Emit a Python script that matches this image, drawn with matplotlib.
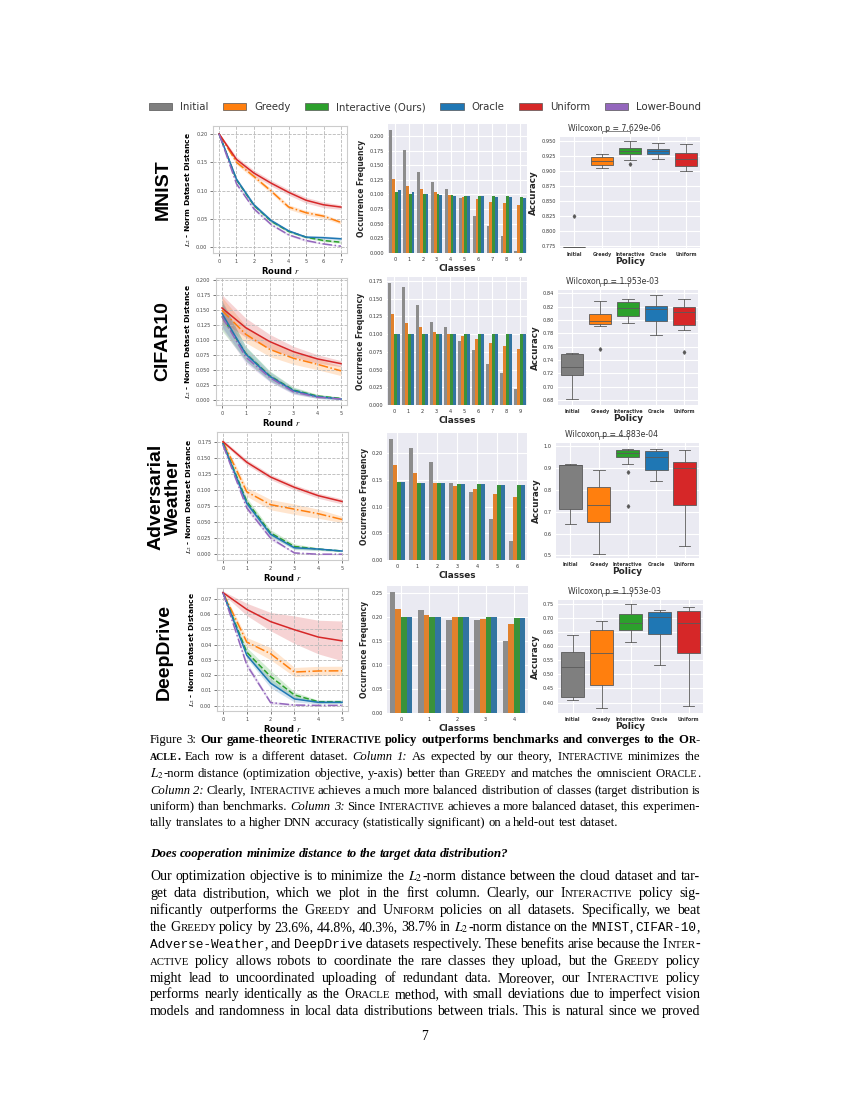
import numpy as np
import matplotlib
matplotlib.use("Agg")
import matplotlib.pyplot as plt
from matplotlib.patches import Patch
from matplotlib.ticker import MultipleLocator, FormatStrFormatter
from matplotlib.transforms import blended_transform_factory

W, H = 850, 1100
plt.rcParams['mathtext.fontset'] = 'stix'

# ---------------- data ----------------
row_names = ["MNIST", "CIFAR10", "Adversarial\nWeather", "DeepDrive"]
policies = ["Initial", "Greedy", "Interactive", "Oracle", "Uniform"]

# column 1: L2-norm distance per round (mean and half band width)
mnist_greedy = [0.200, 0.150, 0.125, 0.099, 0.071, 0.061, 0.055, 0.044]
mnist_interactive = [0.200, 0.119, 0.074, 0.046, 0.028, 0.018, 0.012, 0.009]
mnist_oracle = [0.200, 0.120, 0.075, 0.047, 0.029, 0.018, 0.017, 0.015]
mnist_uniform = [0.200, 0.155, 0.131, 0.113, 0.097, 0.083, 0.075, 0.071]
mnist_lower = [0.200, 0.112, 0.068, 0.040, 0.022, 0.012, 0.006, 0.002]
mnist_band_greedy = [0.002, 0.004, 0.004, 0.004, 0.004, 0.004, 0.004, 0.003]
mnist_band_interactive = [0.002, 0.003, 0.003, 0.003, 0.002, 0.002, 0.002, 0.002]
mnist_band_oracle = [0.002, 0.003, 0.003, 0.003, 0.002, 0.002, 0.003, 0.003]
mnist_band_uniform = [0.002, 0.005, 0.005, 0.005, 0.005, 0.005, 0.005, 0.004]
mnist_band_lower = [0.002, 0.003, 0.003, 0.002, 0.002, 0.002, 0.001, 0.001]

cifar_greedy = [0.150, 0.110, 0.085, 0.070, 0.060, 0.049]
cifar_interactive = [0.140, 0.078, 0.041, 0.017, 0.007, 0.003]
cifar_oracle = [0.145, 0.077, 0.040, 0.016, 0.006, 0.002]
cifar_uniform = [0.154, 0.121, 0.098, 0.081, 0.069, 0.061]
cifar_lower = [0.140, 0.072, 0.038, 0.014, 0.005, 0.002]
cifar_band_greedy = [0.022, 0.014, 0.012, 0.010, 0.009, 0.008]
cifar_band_interactive = [0.024, 0.012, 0.008, 0.005, 0.003, 0.002]
cifar_band_oracle = [0.022, 0.012, 0.008, 0.005, 0.003, 0.002]
cifar_band_uniform = [0.022, 0.016, 0.012, 0.009, 0.007, 0.005]
cifar_band_lower = [0.020, 0.010, 0.007, 0.004, 0.002, 0.001]

adv_greedy = [0.175, 0.097, 0.077, 0.070, 0.063, 0.054]
adv_interactive = [0.173, 0.082, 0.033, 0.012, 0.008, 0.005]
adv_oracle = [0.172, 0.079, 0.031, 0.010, 0.008, 0.005]
adv_uniform = [0.175, 0.143, 0.120, 0.104, 0.091, 0.082]
adv_lower = [0.170, 0.072, 0.025, 0.002, 0.000, 0.000]
adv_band_greedy = [0.003, 0.007, 0.008, 0.008, 0.007, 0.005]
adv_band_interactive = [0.003, 0.006, 0.005, 0.004, 0.002, 0.001]
adv_band_oracle = [0.003, 0.005, 0.004, 0.003, 0.002, 0.001]
adv_band_uniform = [0.003, 0.004, 0.004, 0.004, 0.004, 0.004]
adv_band_lower = [0.003, 0.004, 0.003, 0.001, 0.001, 0.001]

dd_greedy = [0.074, 0.0416, 0.034, 0.022, 0.0227, 0.0228]
dd_interactive = [0.074, 0.035, 0.019, 0.007, 0.0026, 0.0026]
dd_oracle = [0.074, 0.033, 0.0147, 0.0044, 0.0022, 0.0022]
dd_uniform = [0.074, 0.063, 0.055, 0.0497, 0.0449, 0.0424]
dd_lower = [0.074, 0.0267, 0.002, 0.0004, 0.0002, 0.0002]
dd_band_greedy = [0.001, 0.003, 0.004, 0.003, 0.003, 0.003]
dd_band_interactive = [0.001, 0.003, 0.004, 0.002, 0.001, 0.001]
dd_band_oracle = [0.001, 0.002, 0.003, 0.002, 0.001, 0.001]
dd_band_uniform = [0.001, 0.004, 0.006, 0.009, 0.011, 0.013]
dd_band_lower = [0.001, 0.002, 0.001, 0.0005, 0.0003, 0.0003]

# column 2: class occurrence frequency (Initial, Greedy, Interactive, Oracle)
mnist_freq_initial = [0.210, 0.176, 0.139, 0.122, 0.110, 0.094, 0.063, 0.046, 0.029, 0.003]
mnist_freq_greedy = [0.127, 0.115, 0.109, 0.104, 0.099, 0.096, 0.092, 0.088, 0.085, 0.082]
mnist_freq_interactive = [0.104, 0.101, 0.101, 0.100, 0.099, 0.098, 0.098, 0.097, 0.097, 0.095]
mnist_freq_oracle = [0.108, 0.105, 0.101, 0.099, 0.098, 0.098, 0.097, 0.096, 0.096, 0.094]

cifar_freq_initial = [0.172, 0.166, 0.141, 0.117, 0.110, 0.091, 0.077, 0.058, 0.045, 0.022]
cifar_freq_greedy = [0.128, 0.116, 0.110, 0.103, 0.100, 0.097, 0.093, 0.088, 0.083, 0.079]
cifar_freq_interactive = [0.100, 0.100, 0.100, 0.100, 0.100, 0.100, 0.100, 0.100, 0.100, 0.100]
cifar_freq_oracle = [0.100, 0.100, 0.100, 0.100, 0.100, 0.100, 0.100, 0.100, 0.100, 0.100]

adv_freq_initial = [0.227, 0.210, 0.183, 0.144, 0.127, 0.077, 0.035]
adv_freq_greedy = [0.179, 0.164, 0.144, 0.139, 0.133, 0.124, 0.119]
adv_freq_interactive = [0.146, 0.145, 0.144, 0.143, 0.142, 0.141, 0.140]
adv_freq_oracle = [0.146, 0.145, 0.144, 0.143, 0.142, 0.141, 0.140]

dd_freq_initial = [0.252, 0.214, 0.194, 0.193, 0.150]
dd_freq_greedy = [0.217, 0.205, 0.199, 0.196, 0.186]
dd_freq_interactive = [0.201, 0.200, 0.200, 0.199, 0.198]
dd_freq_oracle = [0.201, 0.200, 0.200, 0.199, 0.198]

# column 3: accuracy box statistics per policy
mnist_q1 = [0.7728, 0.909, 0.928, 0.928, 0.907]
mnist_med = [0.7730, 0.916, 0.932, 0.932, 0.919]
mnist_q3 = [0.7732, 0.923, 0.938, 0.936, 0.929]
mnist_lo = [0.7726, 0.904, 0.918, 0.919, 0.899]
mnist_hi = [0.7734, 0.928, 0.949, 0.946, 0.945]
mnist_fliers = [[0.825], [], [0.911], [], []]

cifar_q1 = [0.7175, 0.7935, 0.8065, 0.799, 0.7925]
cifar_med = [0.729, 0.7985, 0.8175, 0.816, 0.8115]
cifar_q3 = [0.749, 0.809, 0.8275, 0.8215, 0.819]
cifar_lo = [0.681, 0.791, 0.795, 0.7775, 0.785]
cifar_hi = [0.750, 0.8285, 0.831, 0.8375, 0.831]
cifar_fliers = [[], [0.757], [], [], [0.752]]

adv_q1 = [0.714, 0.653, 0.950, 0.893, 0.732]
adv_med = [0.913, 0.732, 0.969, 0.951, 0.900]
adv_q3 = [0.916, 0.812, 0.982, 0.980, 0.928]
adv_lo = [0.644, 0.508, 0.919, 0.840, 0.541]
adv_hi = [0.919, 0.893, 0.988, 0.988, 0.982]
adv_fliers = [[], [], [0.882, 0.725], [], []]

dd_q1 = [0.420, 0.464, 0.658, 0.645, 0.575]
dd_med = [0.528, 0.577, 0.681, 0.703, 0.681]
dd_q3 = [0.578, 0.658, 0.715, 0.722, 0.725]
dd_lo = [0.408, 0.379, 0.616, 0.535, 0.388]
dd_hi = [0.640, 0.690, 0.750, 0.729, 0.738]
dd_fliers = [[], [], [], [], []]

wilcoxon_p = ["7.629e-06", "1.953e-03", "4.883e-04", "1.953e-03"]

# ---------------- style ----------------
tab = {"Initial": "#7f7f7f", "Greedy": "#ff7f0e", "Interactive": "#2ca02c",
       "Oracle": "#1f77b4", "Uniform": "#d62728", "Lower-Bound": "#9467bd"}
bar_colors = ["#8c8c8c", "#e1812c", "#3a923a", "#3274a1"]
line_styles = {"Greedy": "-.", "Interactive": "--", "Oracle": "-",
               "Uniform": "-", "Lower-Bound": "-."}
TICK = 3.6

fig = plt.figure(figsize=(8.5, 11), dpi=100)
renderer = fig.canvas.get_renderer()


def add_ax(l, t, r, b):
    return fig.add_axes([l / W, 1 - b / H, (r - l) / W, (b - t) / H])


def dark_style(ax):
    ax.set_facecolor("#EAEAF2")
    ax.grid(True, color="white", linewidth=0.8)
    ax.set_axisbelow(True)
    for s in ax.spines.values():
        s.set_visible(False)
    ax.tick_params(length=0, labelsize=TICK, colors="#333333", pad=3)


def draw_distance(ax, names, means, bands, ylim, step, fmt):
    rounds = np.arange(len(means[0]))
    for name, m, b in zip(names, means, bands):
        m = np.array(m)
        b = np.array(b)
        ax.fill_between(rounds, m - b, m + b, color=tab[name], alpha=0.2, linewidth=0)
        ax.plot(rounds, m, line_styles[name], color=tab[name], linewidth=1.1)
    ax.set_ylim(*ylim)
    ax.set_xlim(-0.05 * rounds[-1], rounds[-1] * 1.05)
    ax.xaxis.set_major_locator(MultipleLocator(1))
    ax.yaxis.set_major_locator(MultipleLocator(step))
    ax.yaxis.set_major_formatter(FormatStrFormatter(fmt))
    ax.grid(True, linestyle="--", color="#b8b8b8", linewidth=0.6)
    for s in ax.spines.values():
        s.set_color("#cccccc")
    ax.tick_params(labelsize=TICK, length=2, width=0.5, colors="#444444", pad=2)
    ax.set_xlabel("Round $r$", fontsize=6.0, fontweight="bold", labelpad=1)
    ax.set_ylabel("$L_2$ - Norm Dataset Distance", fontsize=5.4, fontweight="bold", labelpad=2)


def draw_freq(ax, series):
    n = len(series[0])
    x = np.arange(n)
    for i, vals in enumerate(series):
        ax.bar(x + (i - 1.5) * 0.2, vals, width=0.2, color=bar_colors[i], linewidth=0)
    dark_style(ax)
    ax.set_xlim(-0.5, n - 0.5)
    ax.set_xticks(x)
    ax.set_xlabel("Classes", fontsize=6.4, fontweight="bold", color="#262626", labelpad=1)
    ax.set_ylabel("Occurrence Frequency", fontsize=5.5, fontweight="bold", color="#262626", labelpad=2)


def draw_box(ax, q1, med, q3, lo, hi, fliers, ylim, step, fmt, p):
    stats = []
    for i in range(len(policies)):
        stats.append(dict(q1=q1[i], med=med[i], q3=q3[i], whislo=lo[i],
                          whishi=hi[i], fliers=fliers[i]))
    gray = "#5a5a5a"
    bp = ax.bxp(stats, positions=range(len(policies)), widths=0.8, patch_artist=True,
                boxprops=dict(edgecolor=gray, linewidth=0.6),
                medianprops=dict(color=gray, linewidth=0.6),
                whiskerprops=dict(color=gray, linewidth=0.6),
                capprops=dict(color=gray, linewidth=0.6),
                flierprops=dict(marker="d", markersize=1.8, markerfacecolor=gray,
                                markeredgecolor=gray))
    for patch, name in zip(bp["boxes"], policies):
        patch.set_facecolor(tab[name])
    dark_style(ax)
    ax.set_ylim(*ylim)
    ax.set_xlim(-0.5, len(policies) - 0.5)
    ax.yaxis.set_major_locator(MultipleLocator(step))
    ax.yaxis.set_major_formatter(FormatStrFormatter(fmt))
    ax.set_xticks(range(len(policies)))
    ax.set_xticklabels(policies, fontweight="bold", fontsize=3.4)
    ax.set_xlabel("Policy", fontsize=6.4, fontweight="bold", color="#262626", labelpad=0)
    ax.set_ylabel("Accuracy", fontsize=6.3, fontweight="bold", color="#262626", labelpad=2)
    ax.set_title("Wilcoxon p = " + p, fontsize=5.6, color="#333333", x=0.39, pad=4)
    trans = blended_transform_factory(ax.transData, ax.transAxes)
    ax.plot([1, 1, 2, 2], [1.035, 1.058, 1.058, 1.035], transform=trans,
            clip_on=False, color="#555555", linewidth=0.5)


line_names = ["Greedy", "Interactive", "Oracle", "Uniform", "Lower-Bound"]

# ---- row 1: MNIST
ax = add_ax(213, 126, 347, 253)
draw_distance(ax, line_names,
              [mnist_greedy, mnist_interactive, mnist_oracle, mnist_uniform, mnist_lower],
              [mnist_band_greedy, mnist_band_interactive, mnist_band_oracle,
               mnist_band_uniform, mnist_band_lower],
              (-0.01, 0.214), 0.05, "%.2f")
ax = add_ax(388, 124, 527, 253)
draw_freq(ax, [mnist_freq_initial, mnist_freq_greedy, mnist_freq_interactive, mnist_freq_oracle])
ax.yaxis.set_major_locator(MultipleLocator(0.025))
ax.yaxis.set_major_formatter(FormatStrFormatter("%.3f"))
ax = add_ax(560, 137, 700, 248)
draw_box(ax, mnist_q1, mnist_med, mnist_q3, mnist_lo, mnist_hi, mnist_fliers,
         (0.771, 0.956), 0.025, "%.3f", wilcoxon_p[0])

# ---- row 2: CIFAR10
ax = add_ax(216, 278, 347, 405)
draw_distance(ax, line_names,
              [cifar_greedy, cifar_interactive, cifar_oracle, cifar_uniform, cifar_lower],
              [cifar_band_greedy, cifar_band_interactive, cifar_band_oracle,
               cifar_band_uniform, cifar_band_lower],
              (-0.008, 0.204), 0.025, "%.3f")
ax = add_ax(387, 277, 527, 405)
draw_freq(ax, [cifar_freq_initial, cifar_freq_greedy, cifar_freq_interactive, cifar_freq_oracle])
ax.yaxis.set_major_locator(MultipleLocator(0.025))
ax.yaxis.set_major_formatter(FormatStrFormatter("%.3f"))
ax = add_ax(558, 290, 698, 405)
draw_box(ax, cifar_q1, cifar_med, cifar_q3, cifar_lo, cifar_hi, cifar_fliers,
         (0.6725, 0.845), 0.02, "%.2f", wilcoxon_p[1])

# ---- row 3: Adversarial Weather
ax = add_ax(217, 432, 348, 560)
draw_distance(ax, line_names,
              [adv_greedy, adv_interactive, adv_oracle, adv_uniform, adv_lower],
              [adv_band_greedy, adv_band_interactive, adv_band_oracle,
               adv_band_uniform, adv_band_lower],
              (-0.009, 0.19), 0.025, "%.3f")
ax = add_ax(387, 433, 527, 560)
draw_freq(ax, [adv_freq_initial, adv_freq_greedy, adv_freq_interactive, adv_freq_oracle])
ax.yaxis.set_major_locator(MultipleLocator(0.05))
ax.yaxis.set_major_formatter(FormatStrFormatter("%.2f"))
ax = add_ax(556, 443, 699, 558)
draw_box(ax, adv_q1, adv_med, adv_q3, adv_lo, adv_hi, adv_fliers,
         (0.488, 1.015), 0.1, "%.1f", wilcoxon_p[2])

# ---- row 4: DeepDrive
ax = add_ax(217, 588, 348, 711)
draw_distance(ax, line_names,
              [dd_greedy, dd_interactive, dd_oracle, dd_uniform, dd_lower],
              [dd_band_greedy, dd_band_interactive, dd_band_oracle,
               dd_band_uniform, dd_band_lower],
              (-0.0035, 0.077), 0.01, "%.2f")
ax = add_ax(387, 586, 528, 713)
draw_freq(ax, [dd_freq_initial, dd_freq_greedy, dd_freq_interactive, dd_freq_oracle])
ax.yaxis.set_major_locator(MultipleLocator(0.05))
ax.yaxis.set_major_formatter(FormatStrFormatter("%.2f"))
ax = add_ax(558, 600, 703, 713)
draw_box(ax, dd_q1, dd_med, dd_q3, dd_lo, dd_hi, dd_fliers,
         (0.363, 0.764), 0.05, "%.2f", wilcoxon_p[3])

# row labels
label_pos = [(163, 190), (163, 341), (165, 497), (164, 652)]
for name, (lx, ly) in zip(row_names, label_pos):
    fig.text(lx / W, 1 - ly / H, name, rotation=90, ha="center", va="center",
             fontsize=14, fontweight="bold", family="Liberation Sans", linespacing=1.05)

# legend
legend_names = ["Initial", "Greedy", "Interactive", "Oracle", "Uniform", "Lower-Bound"]
legend_labels = ["Initial", "Greedy", "Interactive (Ours)", "Oracle", "Uniform", "Lower-Bound"]
handles = [Patch(facecolor=tab[n], edgecolor="#555555", linewidth=0.5) for n in legend_names]
fig.legend(handles, legend_labels, loc="center", bbox_to_anchor=(0.5, 1 - 107 / H),
           ncol=6, frameon=False, fontsize=7.3, handlelength=2.3, handletextpad=0.8,
           columnspacing=1.4, labelcolor="#333333")

# ---------------- page text ----------------
SERIF = "Liberation Serif"
PX = 100 / 72


def expand(text, style, size):
    weight = "bold" if style in ("b", "bi", "bsc") else "normal"
    slant = "italic" if style in ("i", "bi") else "normal"
    if style == "tt":
        return [(text, dict(family="Liberation Mono", size=size * 0.92))]
    if style == "m":
        return [(text, dict(size=size))]
    if style in ("sc", "bsc"):
        out = []
        cur, cur_small = "", None
        for ch in text:
            small = ch.islower()
            if cur and small != cur_small:
                out.append((cur, dict(family=SERIF, weight=weight,
                                      size=size * (0.78 if cur_small else 1.0))))
                cur = ""
            cur += ch.upper()
            cur_small = small
        if cur:
            out.append((cur, dict(family=SERIF, weight=weight,
                                  size=size * (0.78 if cur_small else 1.0))))
        return out
    return [(text, dict(family=SERIF, weight=weight, style=slant, size=size))]


def make_words(runs, y_px, size):
    words, cur = [], []
    for text, style in runs:
        parts = text.split(" ")
        for i, part in enumerate(parts):
            if i > 0 and cur:
                words.append(cur)
                cur = []
            if part:
                for s, kw in expand(part, style, size):
                    cur.append(fig.text(0, 1 - y_px / H, s, ha="left", va="baseline", **kw))
    if cur:
        words.append(cur)
    return words


def word_widths(words):
    return [[t.get_window_extent(renderer).width for t in w] for w in words]


def draw_paragraph(lines, ys, size, last_justified=False, x0=150, x1=700):
    all_words = [make_words(runs, y, size) for runs, y in zip(lines, ys)]
    # shrink the whole paragraph if some line cannot fit with normal spaces
    need = 0
    for words in all_words:
        ws = word_widths(words)
        natural = sum(sum(w) for w in ws) + (len(words) - 1) * 0.22 * size * PX
        need = max(need, natural / (x1 - x0))
    if need > 1:
        for words in all_words:
            for w in words:
                for t in w:
                    t.set_fontsize(t.get_fontsize() / need)
        size = size / need
    for k, words in enumerate(all_words):
        ws = word_widths(words)
        total = sum(sum(w) for w in ws)
        gap = 0.25 * size * PX
        justify = k < len(all_words) - 1 or last_justified
        if justify and len(words) > 1:
            gap = (x1 - x0 - total) / (len(words) - 1)
        x = x0
        for w, wws in zip(words, ws):
            for t, tw in zip(w, wws):
                t.set_x(x / W)
                x += tw
            x += gap


caption = [
    [("Figure 3: ", "r"), ("Our game-theoretic ", "b"), ("Interactive", "bsc"),
     (" policy outperforms benchmarks and converges to the ", "b"), ("Or-", "bsc")],
    [("acle", "bsc"), (".", "b"), (" Each row is a different dataset. ", "r"), ("Column 1:", "i"),
     (" As expected by our theory, ", "r"), ("Interactive", "sc"), (" minimizes the", "r")],
    [("$L_2$", "m"), ("-norm distance (optimization objective, y-axis) better than ", "r"),
     ("Greedy", "sc"), (" and matches the omniscient ", "r"), ("Oracle", "sc"), (".", "r")],
    [("Column 2:", "i"), (" Clearly, ", "r"), ("Interactive", "sc"),
     (" achieves a much more balanced distribution of classes (target distribution is", "r")],
    [("uniform) than benchmarks. ", "r"), ("Column 3:", "i"), (" Since ", "r"), ("Interactive", "sc"),
     (" achieves a more balanced dataset, this experimen-", "r")],
    [("tally translates to a higher DNN accuracy (statistically significant) on a held-out test dataset.", "r")],
]
draw_paragraph(caption, [743, 760, 777, 794, 810, 826], 9.6)

draw_paragraph([[("Does cooperation minimize distance to the target data distribution?", "bi")]],
               [857], 9.4)

body = [
    [("Our optimization objective is to minimize the ", "r"), ("$L_2$", "m"),
     ("-norm distance between the cloud dataset and tar-", "r")],
    [("get data distribution, which we plot in the first column. Clearly, our ", "r"),
     ("Interactive", "sc"), (" policy sig-", "r")],
    [("nificantly outperforms the ", "r"), ("Greedy", "sc"), (" and ", "r"), ("Uniform", "sc"),
     (" policies on all datasets. Specifically, we beat", "r")],
    [("the ", "r"), ("Greedy", "sc"), (" policy by 23.6%, 44.8%, 40.3%, 38.7% in ", "r"), ("$L_2$", "m"),
     ("-norm distance on the ", "r"), ("MNIST", "tt"), (", ", "r"), ("CIFAR-10", "tt"), (",", "r")],
    [("Adverse-Weather", "tt"), (", and ", "r"), ("DeepDrive", "tt"),
     (" datasets respectively. These benefits arise because the ", "r"), ("Inter-", "sc")],
    [("active", "sc"), (" policy allows robots to coordinate the rare classes they upload, but the ", "r"),
     ("Greedy", "sc"), (" policy", "r")],
    [("might lead to uncoordinated uploading of redundant data. Moreover, our ", "r"),
     ("Interactive", "sc"), (" policy", "r")],
    [("performs nearly identically as the ", "r"), ("Oracle", "sc"),
     (" method, with small deviations due to imperfect vision", "r")],
    [("models and randomness in local data distributions between trials. This is natural since we proved", "r")],
]
draw_paragraph(body, [880, 897, 914, 931, 948, 965, 982, 998, 1015], 10.2, last_justified=True)

fig.text(425 / W, 1 - 1040 / H, "7", ha="center", va="baseline", family=SERIF, size=9.8)

fig.savefig("out.png", dpi=100)
